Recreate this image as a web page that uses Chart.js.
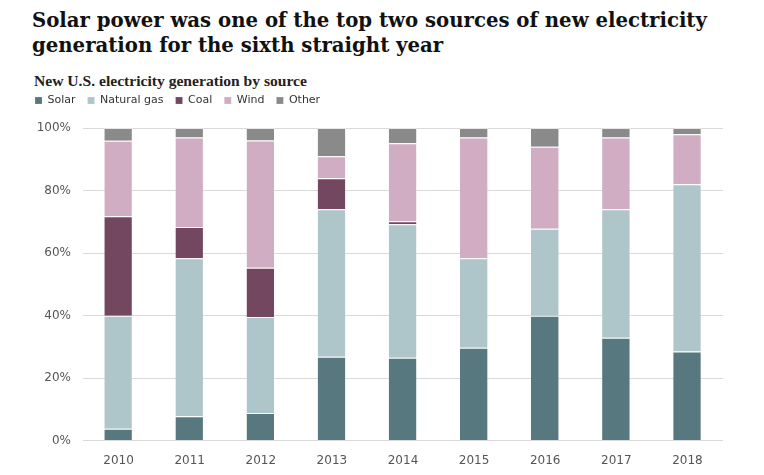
<!DOCTYPE html>
<html>
<head>
<meta charset="utf-8">
<script src="https://cdn.jsdelivr.net/npm/chart.js@4.4.1/dist/chart.umd.min.js"></script>
<style>
  html, body { margin: 0; padding: 0; background: #fff; }
  body { width: 764px; height: 475px; position: relative; overflow: hidden; }
  #title { position: absolute; left: 32px; top: 7.8px; margin: 0;
    font-family: "DejaVu Serif", serif; font-weight: bold; font-size: 19.7px; line-height: 25px; color: #111; }
  #subtitle { position: absolute; left: 34px; top: 71.5px; margin: 0;
    font-family: "Liberation Serif", serif; font-weight: bold; font-size: 15.6px; line-height: 17px; color: #222; }
  #wrap { position: absolute; left: 0; top: 82.5px; width: 764px; height: 390px; }
</style>
</head>
<body>
<h1 id="title">Solar power was one of the top two sources of new electricity<br>generation for the sixth straight year</h1>
<div id="subtitle">New U.S. electricity generation by source</div>
<div id="wrap"><canvas id="c" width="764" height="390"></canvas></div>
<script>
const years = ["2010", "2011", "2012", "2013", "2014", "2015", "2016", "2017", "2018"];
const solar = [3.8, 7.8, 8.8, 26.8, 26.5, 29.7, 39.9, 32.9, 28.5];
const naturalGas = [36.1, 50.5, 30.7, 47.2, 42.7, 28.6, 27.9, 41.1, 53.5];
const coal = [31.9, 10.0, 15.8, 9.9, 1.0, 0, 0, 0, 0];
const wind = [24.1, 28.7, 40.7, 7.1, 24.9, 38.7, 26.2, 23.0, 16.0];
const other = [4.1, 3.0, 4.0, 9.0, 4.9, 3.0, 6.0, 3.0, 2.0];
const yTicks = [0, 20, 40, 60, 80, 100];

const seriesNames = ["Solar", "Natural gas", "Coal", "Wind", "Other"];
const seriesData = [solar, naturalGas, coal, wind, other];
const seriesColors = ["#56787e", "#aec5c9", "#72475f", "#d0adc2", "#8a8a8a"];

const legendSpacing = {
  id: 'legendSpacing',
  beforeInit(chart) {
    const orig = chart.legend.fit;
    chart.legend.fit = function () { orig.call(this); this.height += 12; };
  }
};

new Chart(document.getElementById('c'), {
  type: 'bar',
  data: {
    labels: years,
    datasets: seriesNames.map((n, i) => ({
      label: n,
      data: seriesData[i],
      backgroundColor: seriesColors[i],
      borderColor: 'rgba(255,255,255,0.35)',
      borderWidth: { top: 1, right: 1, left: 0, bottom: 0 },
      borderSkipped: false,
      categoryPercentage: 0.4,
      barPercentage: 1.0
    }))
  },
  plugins: [legendSpacing],
  options: {
    responsive: false,
    animation: false,
    layout: { padding: { left: 23, right: 41, top: 0, bottom: 0 } },
    plugins: {
      legend: {
        position: 'top',
        align: 'start',
        labels: {
          boxWidth: 7, boxHeight: 7, padding: 12,
          color: '#333',
          font: { family: 'DejaVu Sans', size: 11 }
        }
      },
      tooltip: { enabled: false }
    },
    scales: {
      x: {
        stacked: true,
        grid: { display: false },
        border: { display: false },
        ticks: { color: '#555', padding: 5, font: { family: 'DejaVu Sans', size: 12 } }
      },
      y: {
        stacked: true,
        min: 0, max: 100,
        afterFit(scale) { scale.width = 60; },
        afterBuildTicks(scale) { scale.ticks = yTicks.map(v => ({ value: v })); },
        grid: { color: '#d9d9d9', drawTicks: false },
        border: { display: false },
        ticks: { color: '#555', padding: 12, font: { family: 'DejaVu Sans', size: 12 },
          callback: v => v + '%' }
      }
    }
  }
});
</script>
</body>
</html>
